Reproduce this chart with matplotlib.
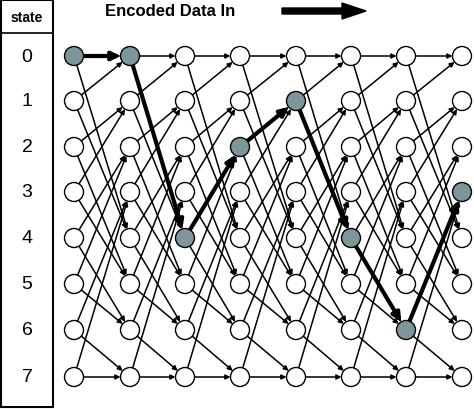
import numpy as np
import matplotlib.pyplot as plt
from matplotlib.patches import Circle, Rectangle, FancyArrow

states = [0, 1, 2, 3, 4, 5, 6, 7]
col_x = [74, 130, 185, 240, 296, 351, 406, 462]
row_y = [57, 102, 148, 193, 239, 285, 331, 378]
path = [0, 0, 4, 2, 1, 4, 6, 3]
r = 9.5

fig = plt.figure(figsize=(4.74, 4.10), dpi=100)
ax = fig.add_axes([0, 0, 1, 1])
ax.set_xlim(0, 474)
ax.set_ylim(410, 0)
ax.axis('off')

# state column box
ax.add_patch(Rectangle((1, 1), 52, 407, fill=False, lw=1.5, ec='black'))
ax.plot([1, 53], [34, 34], color='black', lw=1.2)
ax.text(27, 18, 'state', ha='center', va='center', fontsize=10, fontweight='bold',
        family='Liberation Sans')
for s in states:
    ax.text(27, row_y[s], str(s), ha='center', va='center', fontsize=14,
            family='Liberation Sans')

# title + arrow
ax.text(105, 12, 'Encoded Data In', ha='left', va='center', fontsize=12, fontweight='bold',
        family='Liberation Sans')
ax.add_patch(FancyArrow(282, 12, 60, 0, width=6, head_width=16, head_length=24,
                        length_includes_head=False, color='black'))

def edge(c, s, t, lw=1.1, hw=7):
    x0, y0 = col_x[c], row_y[s]
    x1, y1 = col_x[c + 1], row_y[t]
    d = np.hypot(x1 - x0, y1 - y0)
    ux, uy = (x1 - x0) / d, (y1 - y0) / d
    ax.annotate('', xy=(x1 - ux * r, y1 - uy * r), xytext=(x0 + ux * r, y0 + uy * r),
                arrowprops=dict(arrowstyle='-|>', lw=lw, color='black',
                                mutation_scale=hw, shrinkA=0, shrinkB=0))

for c in range(len(col_x) - 1):
    for s in states:
        for b in (0, 1):
            t = (s >> 1) | (b << 2)
            edge(c, s, t)
for c in range(len(path) - 1):
    edge(c, path[c], path[c + 1], lw=3, hw=12)

for c, x in enumerate(col_x):
    for s in states:
        fc = '#7f959c' if path[c] == s else 'white'
        ax.add_patch(Circle((x, row_y[s]), r, fc=fc, ec='black', lw=1, zorder=5))

plt.savefig('out.png', dpi=100)
